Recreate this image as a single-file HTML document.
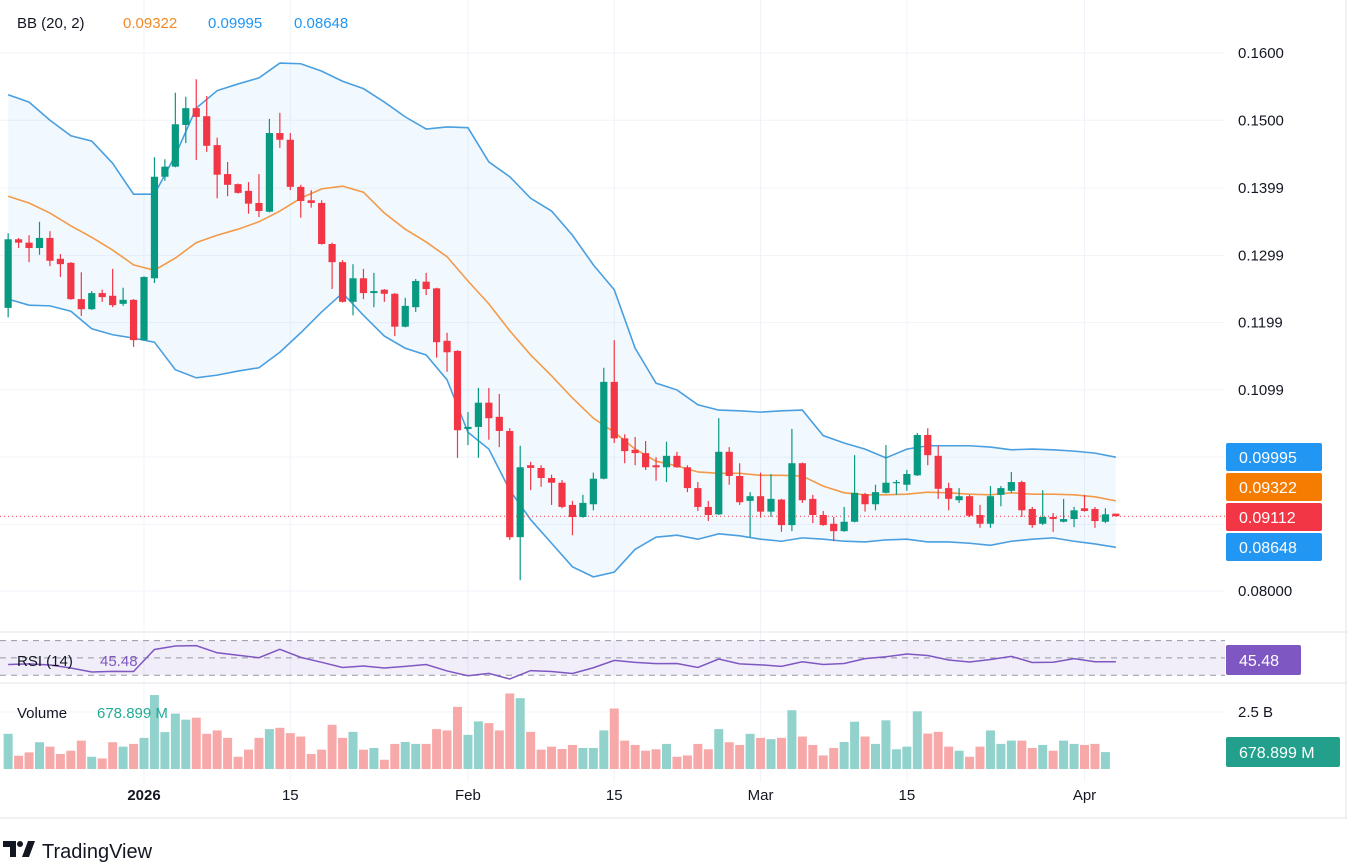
<!DOCTYPE html>
<html><head><meta charset="utf-8"><title>BB chart</title>
<style>
html,body{margin:0;padding:0;background:#fff;}
svg{display:block;font-family:"Liberation Sans",Arial,sans-serif;}
</style></head>
<body>
<svg id="chart" width="1347" height="864" viewBox="0 0 1347 864" xmlns="http://www.w3.org/2000/svg">
  <rect x="0" y="0" width="1347" height="864" fill="#ffffff"/>
  <g id="grid"></g>
  <g id="bb"></g>
  <g id="candles"></g>
  <g id="rsi"></g>
  <g id="vol"></g>
  <g id="axes"></g>
  <g id="texts">
    <text x="17" y="28" font-size="15" fill="#131722">BB (20, 2)</text>
    <text x="123" y="28" font-size="15" fill="#f08a24">0.09322</text>
    <text x="208" y="28" font-size="15" fill="#2196f3">0.09995</text>
    <text x="294" y="28" font-size="15" fill="#2196f3">0.08648</text>
    <text x="17" y="666" font-size="15" fill="#131722">RSI (14)</text>
    <text x="100" y="666" font-size="15" fill="#7e57c2">45.48</text>
    <text x="17" y="718" font-size="15" fill="#131722">Volume</text>
    <text x="97" y="718" font-size="15" fill="#22ab94">678.899 M</text>
  </g>
  <g>
    <path d="M3 841 h13 v16 h-6 v-10 h-7 z M22 857 l6 -16 h7 l-6 16 z" fill="#131722"/>
    <circle cx="20" cy="844" r="3" fill="#131722"/>
    <text x="42" y="858" font-size="20" fill="#131722">TradingView</text>
  </g>
</svg>
<script>
const opens = [.1221,.1323,.1318,.1310,.1325,.1294,.1288,.1234,.1219,.1243,
.1239,.1227,.1233,.1173,.1265,.1416,.1431,.1493,.1518,.1506,
.1463,.1420,.1405,.1395,.1377,.1364,.1481,.1471,.1401,.1381,
.1377,.1316,.1289,.1230,.1265,.1243,.1248,.1242,.1193,.1222,
.1260,.1250,.1172,.1157,.1041,.1044,.1080,.1059,.1038,.0880,
.0987,.0983,.0968,.0961,.0928,.0910,.0929,.0967,.1111,.1027,
.1010,.1005,.0987,.0984,.1001,.0984,.0953,.0925,.0914,.1007,
.0971,.0934,.0941,.0918,.0936,.0898,.0990,.0937,.0913,.0900,
.0889,.0903,.0944,.0929,.0946,.0961,.0958,.0972,.1032,.1001,
.0953,.0935,.0941,.0913,.0900,.0943,.0949,.0962,.0922,.0900,
.0910,.0903,.0907,.0923,.0922,.0903,.0915];
const highs = [.1332,.1325,.1329,.1349,.1335,.1301,.1289,.1274,.1246,.1248,
.1279,.1251,.1234,.1268,.1445,.1442,.1541,.1535,.1561,.1536,
.1474,.1438,.1406,.1408,.1420,.1502,.1511,.1481,.1404,.1396,
.1381,.1318,.1292,.1286,.1279,.1273,.1249,.1243,.1236,.1264,
.1273,.1251,.1184,.1158,.1066,.1102,.1102,.1093,.1042,.1016,
.0992,.0987,.0973,.0965,.0934,.0943,.0976,.1132,.1173,.1033,
.1029,.1023,.0999,.1022,.1007,.0987,.0962,.0934,.1057,.1014,
.0990,.0947,.0976,.0974,.0937,.1041,.0991,.0943,.0919,.0910,
.0925,.1002,.0946,.0958,.1017,.0965,.0980,.1035,.1042,.1016,
.0961,.0953,.0943,.0928,.0956,.0956,.0977,.0964,.0925,.0950,
.0916,.0937,.0925,.0943,.0925,.0923,.0915];
const lows = [.1207,.1310,.1289,.1300,.1283,.1267,.1233,.1209,.1218,.1230,
.1222,.1224,.1163,.1172,.1258,.1410,.1430,.1466,.1441,.1453,
.1384,.1387,.1391,.1361,.1356,.1363,.1459,.1396,.1355,.1370,
.1315,.1249,.1229,.1210,.1234,.1222,.1230,.1179,.1192,.1215,
.1240,.1147,.1126,.0998,.1017,.0998,.1025,.1014,.0876,.0816,
.0950,.0955,.0928,.0923,.0883,.0909,.0920,.0966,.1020,.0990,
.0987,.0980,.0964,.0962,.0983,.0947,.0919,.0904,.0913,.0958,
.0928,.0880,.0909,.0910,.0888,.0889,.0931,.0901,.0897,.0874,
.0888,.0902,.0918,.0920,.0945,.0943,.0949,.0971,.0987,.0937,
.0920,.0931,.0910,.0894,.0894,.0926,.0946,.0910,.0894,.0898,
.0888,.0902,.0895,.0918,.0894,.0901,.0911];
const closes = [.1323,.1318,.1310,.1325,.1291,.1286,.1234,.1219,.1243,.1237,
.1225,.1233,.1173,.1267,.1416,.1431,.1494,.1518,.1505,.1462,
.1419,.1404,.1392,.1376,.1365,.1481,.1471,.1401,.1380,.1377,
.1316,.1289,.1230,.1265,.1243,.1246,.1242,.1193,.1224,.1261,
.1249,.1170,.1155,.1039,.1044,.1080,.1057,.1038,.0880,.0984,
.0983,.0968,.0961,.0925,.0910,.0931,.0967,.1111,.1027,.1008,
.1005,.0984,.0984,.1001,.0984,.0953,.0925,.0913,.1007,.0971,
.0932,.0941,.0918,.0937,.0898,.0990,.0935,.0913,.0898,.0889,
.0903,.0946,.0929,.0947,.0961,.0962,.0974,.1032,.1002,.0952,
.0937,.0941,.0912,.0900,.0941,.0953,.0962,.0920,.0898,.0910,
.0907,.0907,.0920,.0919,.0904,.0914,.09112];
const volumes = [1413,534,667,1076,898,602,735,1140,492,424,
1076,898,1008,1250,2970,1481,2224,1981,2061,1413,
1549,1250,492,777,1250,1602,1655,1439,1303,602,
777,1777,1250,1492,777,845,371,1008,1087,1008,
1008,1602,1549,2496,1371,1913,1845,1549,3034,2845,
1492,777,898,803,966,845,845,1549,2428,1140,
966,735,792,1008,492,545,1008,792,1602,1076,
966,1413,1250,1197,1250,2360,1303,966,545,845,
1087,1898,1303,1008,1955,792,898,2318,1424,1492,
898,735,492,898,1549,1008,1140,1140,845,966,
735,1140,1008,966,1008,679];
const bbUpper = [.1538,.1527,.1500,.1477,.1469,.1436,.1390,.1390,.1448,.1518,
.1544,.1554,.1563,.1585,.1584,.1573,.1558,.1547,.1527,.1505,
.1487,.1490,.1489,.1438,.1416,.1384,.1365,.1329,.1285,.1248,
.1161,.1109,.1099,.1077,.1069,.1068,.1066,.1068,.1069,.1031,
.1020,.1011,.0998,.1011,.1016,.1016,.1016,.1014,.1010,.1011,
.1010,.1008,.1005,.0999];
const bbBasis = [.1387,.1377,.1362,.1343,.1326,.1307,.1285,.1277,.1295,.1318,
.1329,.1338,.1349,.1365,.1384,.1398,.1402,.1393,.1362,.1338,
.1319,.1297,.1261,.1227,.1187,.1151,.1120,.1087,.1057,.1036,
.1011,.0993,.0986,.0977,.0975,.0975,.0972,.0972,.0971,.0956,
.0946,.0943,.0943,.0944,.0947,.0946,.0944,.0943,.0946,.0944,
.0944,.0943,.0940,.0934];
const bbLower = [.1234,.1225,.1224,.1216,.1190,.1181,.1176,.1170,.1129,.1117,
.1121,.1127,.1132,.1155,.1184,.1215,.1243,.1210,.1179,.1161,
.1151,.1114,.1036,.1011,.0950,.0906,.0871,.0836,.0821,.0828,
.0862,.0880,.0883,.0877,.0885,.0882,.0877,.0874,.0879,.0877,
.0874,.0873,.0876,.0877,.0873,.0873,.0871,.0868,.0874,.0877,
.0879,.0874,.0870,.0865];
const rsiValues = [42.4,43.1,41.8,38.3,33.7,34.4,34.3,59.7,63.8,64.2,
55.9,53.0,50.2,59.9,50.6,44.9,38.9,40.6,38.3,40.2,
42.3,34.9,29.4,32.1,25.6,35.3,34.3,32.0,38.6,47.1,
44.8,43.4,43.5,38.9,48.7,43.1,42.0,40.2,45.5,42.4,
43.5,49.2,51.3,54.5,52.8,47.6,45.3,48.2,51.8,44.7,
45.0,49.2,45.5,45.5];
const priceTicks = [0.16,0.15,0.1399,0.1299,0.1199,0.1099,0.0999,0.0899,0.08];
const priceTickLabels = ["0.1600","0.1500","0.1399","0.1299","0.1199","0.1099","","","0.08000"];
const timeTickIdx = [13,27,44,58,72,86,103];
const timeTickLabels = ["2026","15","Feb","15","Mar","15","Apr"];
const lastPrice = 0.09112;

const NS="http://www.w3.org/2000/svg";
const xI = i => 8.15 + 10.45*i;
const yP = p => 53 + (0.16 - p)*6725;
const yR = v => 657.9 - (v-50)*0.865;
const yV = m => 769 - m*0.0249;
const PLOT_R = 1225;
function mk(tag, attrs, parent){const e=document.createElementNS(NS,tag);for(const k in attrs)e.setAttribute(k,attrs[k]);parent.appendChild(e);return e;}

const grid=document.getElementById('grid');
priceTicks.forEach((p)=>{
  const l=mk('line',{x1:0,x2:PLOT_R,y1:yP(p),y2:yP(p),stroke:'#f0f3fa','stroke-width':1},grid);
  
  
});
timeTickIdx.forEach((i)=>{
  const l=mk('line',{x1:xI(i),x2:xI(i),y1:0,y2:782,stroke:'#f0f3fa','stroke-width':1},grid);
  
  
});
const vg=mk('line',{x1:0,x2:PLOT_R,y1:712,y2:712,stroke:'#f0f3fa','stroke-width':1},grid);



const bb=document.getElementById('bb');
const ptsU=bbUpper.map((v,k)=>[xI(2*k),yP(v)]);
const ptsL=bbLower.map((v,k)=>[xI(2*k),yP(v)]);
const ptsM=bbBasis.map((v,k)=>[xI(2*k),yP(v)]);
const fillD='M'+ptsU.map(p=>p.join(',')).join(' L')+' L'+ptsL.slice().reverse().map(p=>p.join(',')).join(' L')+' Z';
const bf=mk('path',{d:fillD,fill:'rgba(33,150,243,0.06)',stroke:'none'},bb);


[[ptsU,'#4a9fe0','bb-upper-line'],[ptsL,'#4a9fe0','bb-lower-line'],[ptsM,'#f39a4a','bb-basis-line']].forEach(([pts,c,n])=>{
  const pl=mk('polyline',{points:pts.map(p=>p.join(',')).join(' '),fill:'none',stroke:c,'stroke-width':1.6},bb);
  
  
});

const pl=mk('line',{x1:0,x2:PLOT_R,y1:yP(lastPrice),y2:yP(lastPrice),stroke:'#f23645','stroke-width':1,'stroke-dasharray':'1,3'},bb);



const cg=document.getElementById('candles');
opens.forEach((o,i)=>{
  const c=closes[i],h=highs[i],l=lows[i];
  const up=c>=o;const col=up?'#089981':'#f23645';
  const x=xI(i);
  const g=mk('g',{},cg);
  
  
  mk('line',{x1:x,x2:x,y1:yP(h),y2:yP(l),stroke:col,'stroke-width':1.2},g);
  const top=yP(Math.max(o,c)),bot=yP(Math.min(o,c));
  mk('rect',{x:x-3.6,y:top,width:7.2,height:Math.max(1.2,bot-top),fill:col},g);
});

const rg=document.getElementById('rsi');
const rb=mk('rect',{x:0,y:yR(70),width:PLOT_R,height:yR(30)-yR(70),fill:'rgba(126,87,194,0.1)'},rg);


[70,50,30].forEach(v=>{
  const l=mk('line',{x1:0,x2:PLOT_R,y1:yR(v),y2:yR(v),stroke:'#9598a1','stroke-width':1,'stroke-dasharray':'6,5'},rg);
  
  
});
const rl=mk('polyline',{points:rsiValues.map((v,k)=>xI(2*k)+','+yR(v)).join(' '),fill:'none',stroke:'#7e57c2','stroke-width':1.5},rg);



const vgp=document.getElementById('vol');
volumes.forEach((m,i)=>{
  const up=closes[i]>=opens[i];
  const r=mk('rect',{x:xI(i)-4.5,y:yV(m),width:9,height:769-yV(m),fill:up?'#92d2cc':'#f7a9a9'},vgp);
  
  
});

const ax=document.getElementById('axes');
[[632],[683],[818]].forEach(([y])=>{
  const l=mk('line',{x1:0,x2:1347,y1:y,y2:y,stroke:'#e0e3eb','stroke-width':1},ax);
  
  
});
const rb2=mk('line',{x1:1346,x2:1346,y1:0,y2:818,stroke:'#e0e3eb','stroke-width':1},ax);


priceTicks.forEach((p,k)=>{
  if(!priceTickLabels[k])return;
  const t=mk('text',{x:1238,y:yP(p)+5,'font-size':15,fill:'#131722'},ax);
  t.textContent=priceTickLabels[k];
  
  
});
const vt=mk('text',{x:1238,y:717,'font-size':15,fill:'#131722'},ax);
vt.textContent='2.5 B';


timeTickIdx.forEach((i,k)=>{
  const t=mk('text',{x:xI(i),y:800,'font-size':15,fill:'#131722','text-anchor':'middle','font-weight':k===0?'bold':'normal'},ax);
  t.textContent=timeTickLabels[k];
  
  
});
function badge(y,h,w,fill,txt,name){
  const g=mk('g',{},ax);
  
  
  mk('rect',{x:1226,y:y,width:w,height:h,rx:2,fill:fill},g);
  const t=mk('text',{x:1239,y:y+h/2+6,'font-size':16,fill:'#ffffff'},g);
  t.textContent=txt;
}
badge(443,28,96,'#2196f3','0.09995','bb-upper-badge');
badge(473,28,96,'#f57c00','0.09322','bb-basis-badge');
badge(503,28,96,'#f23645','0.09112','last-price-badge');
badge(533,28,96,'#2196f3','0.08648','bb-lower-badge');
badge(645,30,75,'#7e57c2','45.48','rsi-badge');
badge(737,30,114,'#22a08c','678.899 M','volume-badge');
</script>
</body></html>
